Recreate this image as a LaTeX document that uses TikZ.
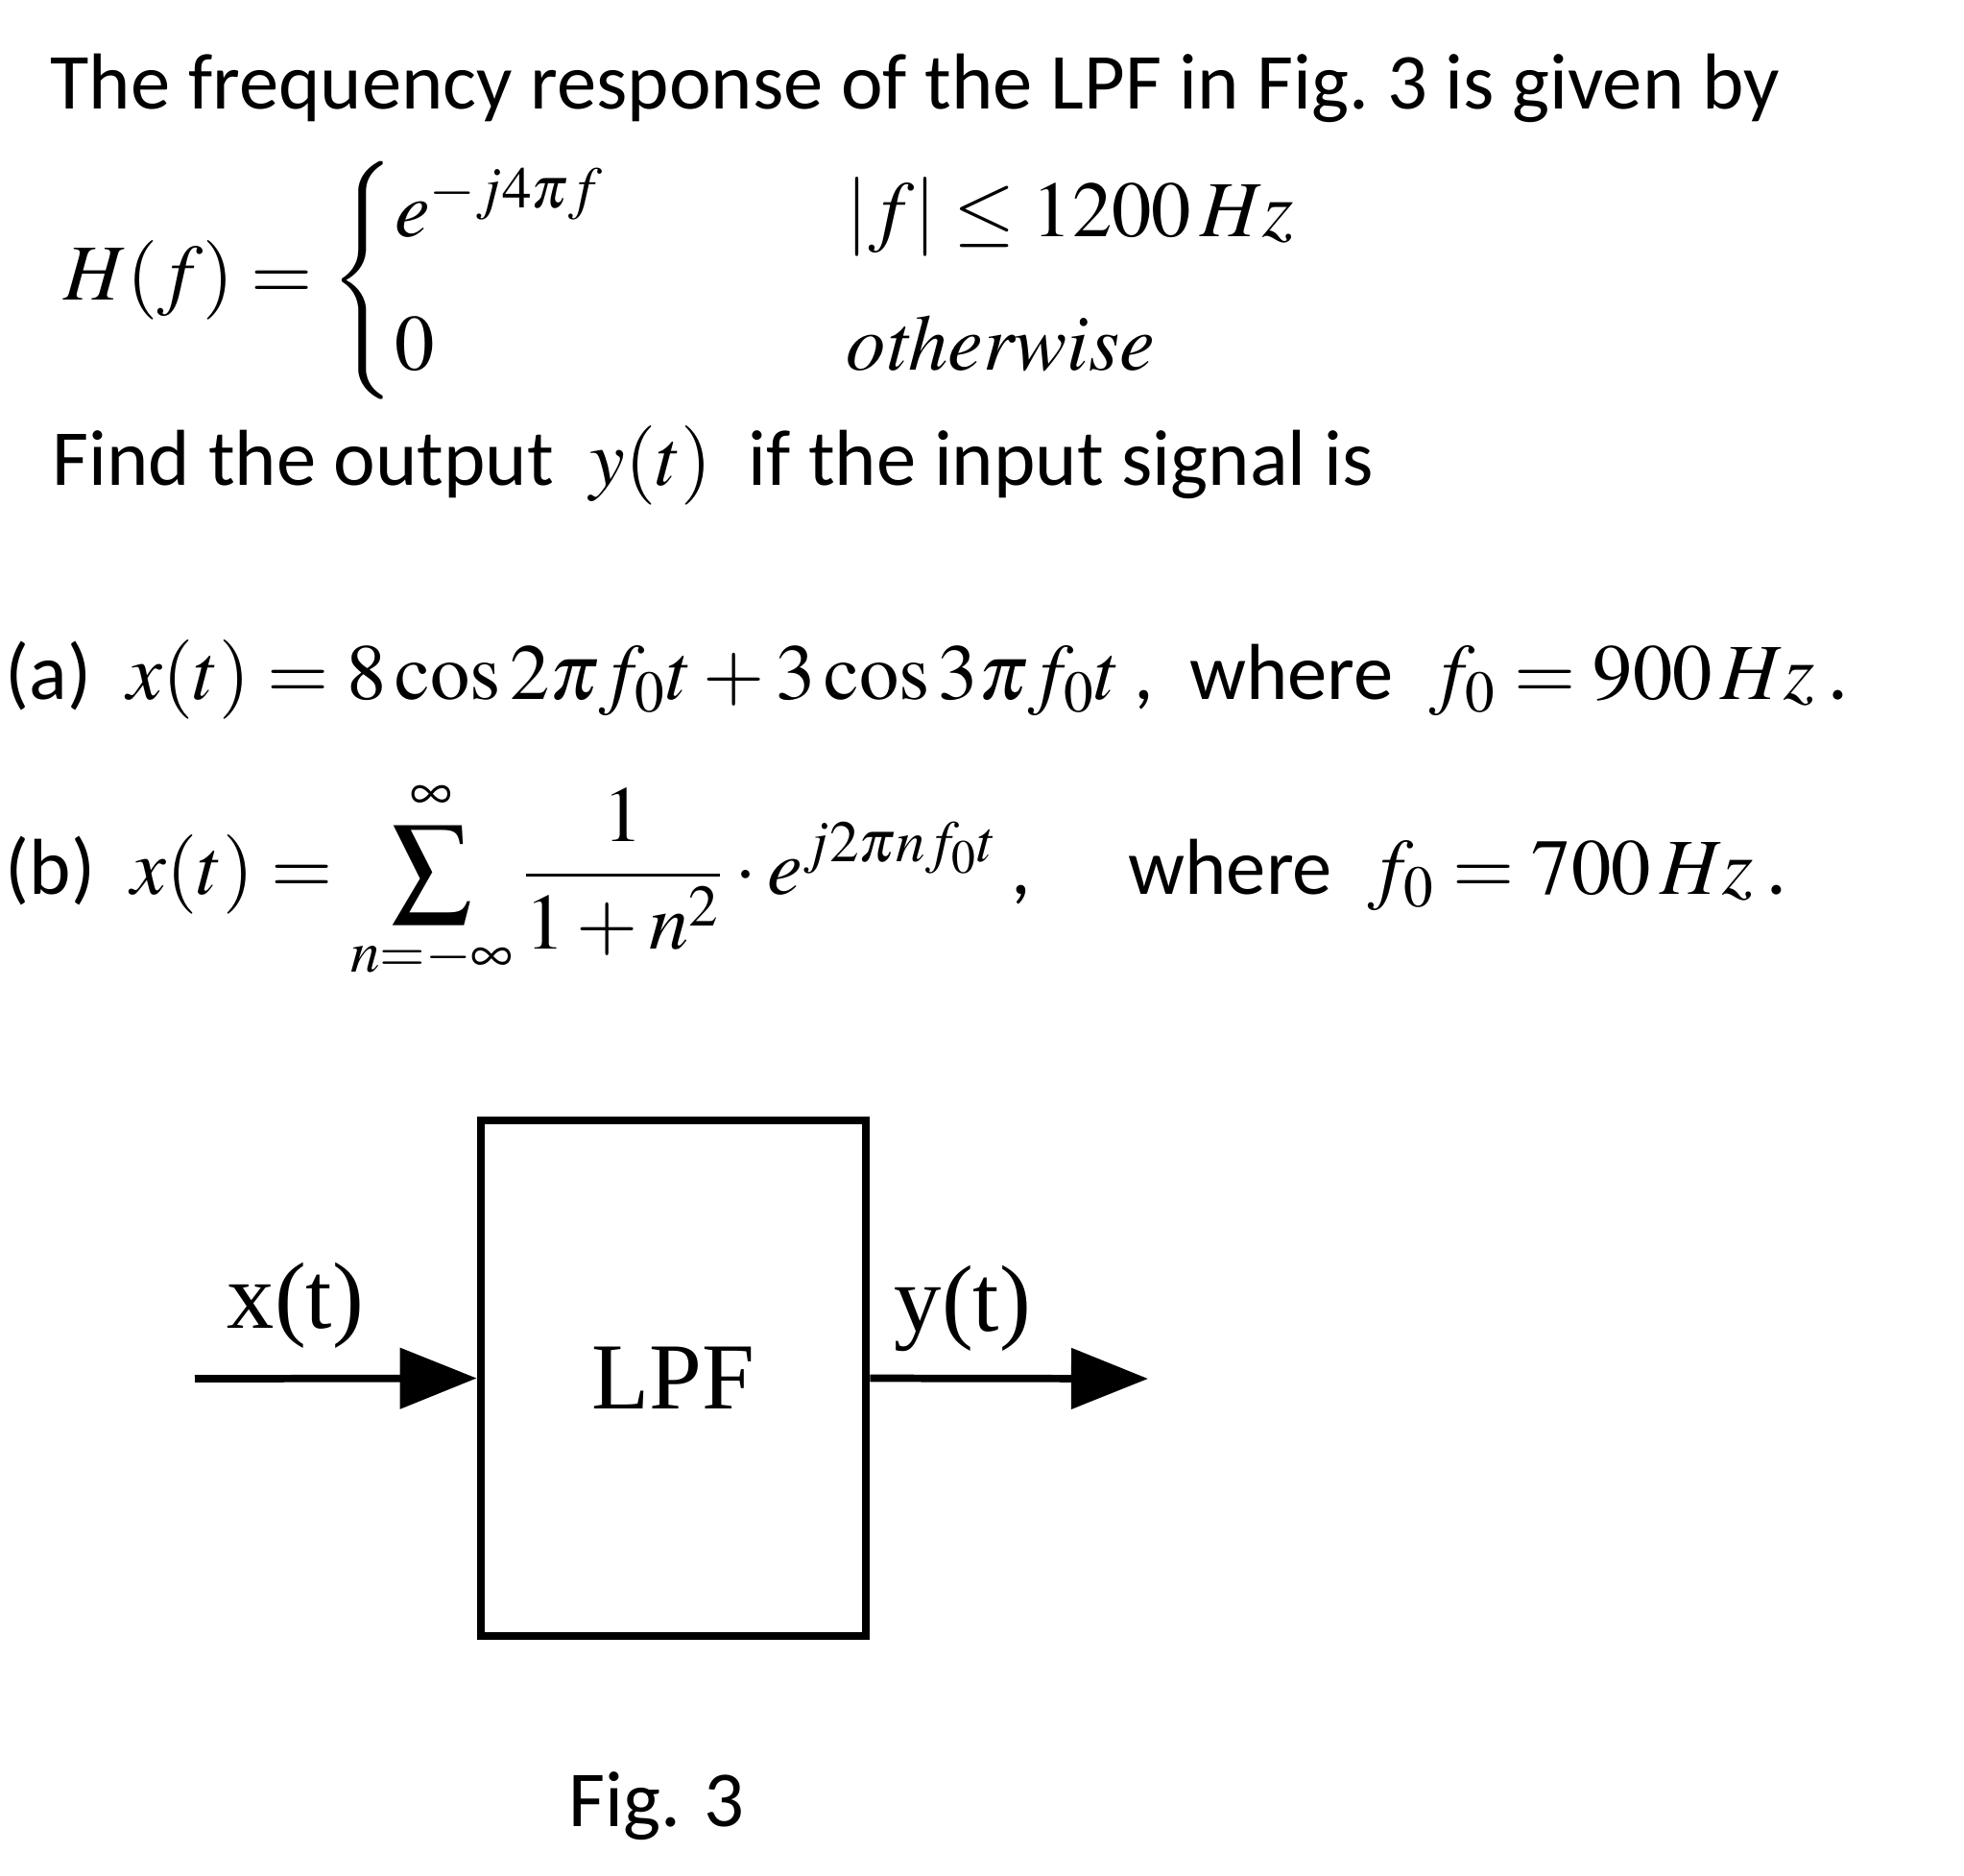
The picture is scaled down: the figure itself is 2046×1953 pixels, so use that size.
\documentclass[tikz,border=0pt]{standalone}
\usepackage{amsmath}
\usepackage{mathptmx}
\usepackage{fontspec}
\setmainfont{Carlito}
\newfontfamily\tms{Liberation Serif}
\usetikzlibrary{arrows.meta}
\begin{document}
\begin{tikzpicture}[x=0.01cm,y=-0.01cm,
  txt/.style={anchor=west,inner sep=0pt,font=\fontsize{23.5}{28}\selectfont},
  arr/.style={line width=2.2pt,-{Triangle[length=0.8cm,width=0.62cm]}}]
\useasboundingbox (0,0) rectangle (2046,1953);
\node[txt] (t1) at (52,92) {The frequency response of the LPF in Fig.~3 is given by};
\node[txt] (h) at (66,292) {$H(f)=\begin{cases}e^{-j4\pi f} & \hspace{1.7cm}|f|\le 1200\,Hz\\[6pt] 0 & \hspace{1.7cm}\mathit{otherwise}\end{cases}$};
\node[txt] (t2) at (54,485) {Find the output \ $y(t)$ \ if the input signal is};
\node[txt] (a) at (5,708) {(a) \ $x(t)=8\cos 2\pi f_0 t+3\cos 3\pi f_0 t$\,, \ where \ $f_0=900\,Hz$\,.};
\node[txt] (b) at (5,918) {(b) \ $x(t)=\displaystyle\sum_{n=-\infty}^{\infty}\frac{1}{1+n^2}\cdot e^{j2\pi n f_0 t}$\,, \quad where \ $f_0=700\,Hz$\,.};
\node[draw,line width=2.4pt,minimum width=4.01cm,minimum height=5.37cm,inner sep=0pt,font=\tms\fontsize{28}{32}\selectfont] (lpf) at (701.5,1435.5) {LPF};
\coordinate (in) at (203,1436);
\coordinate (out) at (1196,1436);
\draw[arr] (in) -- (lpf.west);
\draw[arr] (lpf.east) -- (out);
\node[font=\tms\fontsize{28}{32}\selectfont] (xl) at (308,1360) {x(t)};
\node[font=\tms\fontsize{28}{32}\selectfont] (yl) at (1003,1363) {y(t)};
\node[font=\fontsize{23.5}{28}\selectfont] (fig) at (684,1881) {Fig. 3};
\end{tikzpicture}
\end{document}
